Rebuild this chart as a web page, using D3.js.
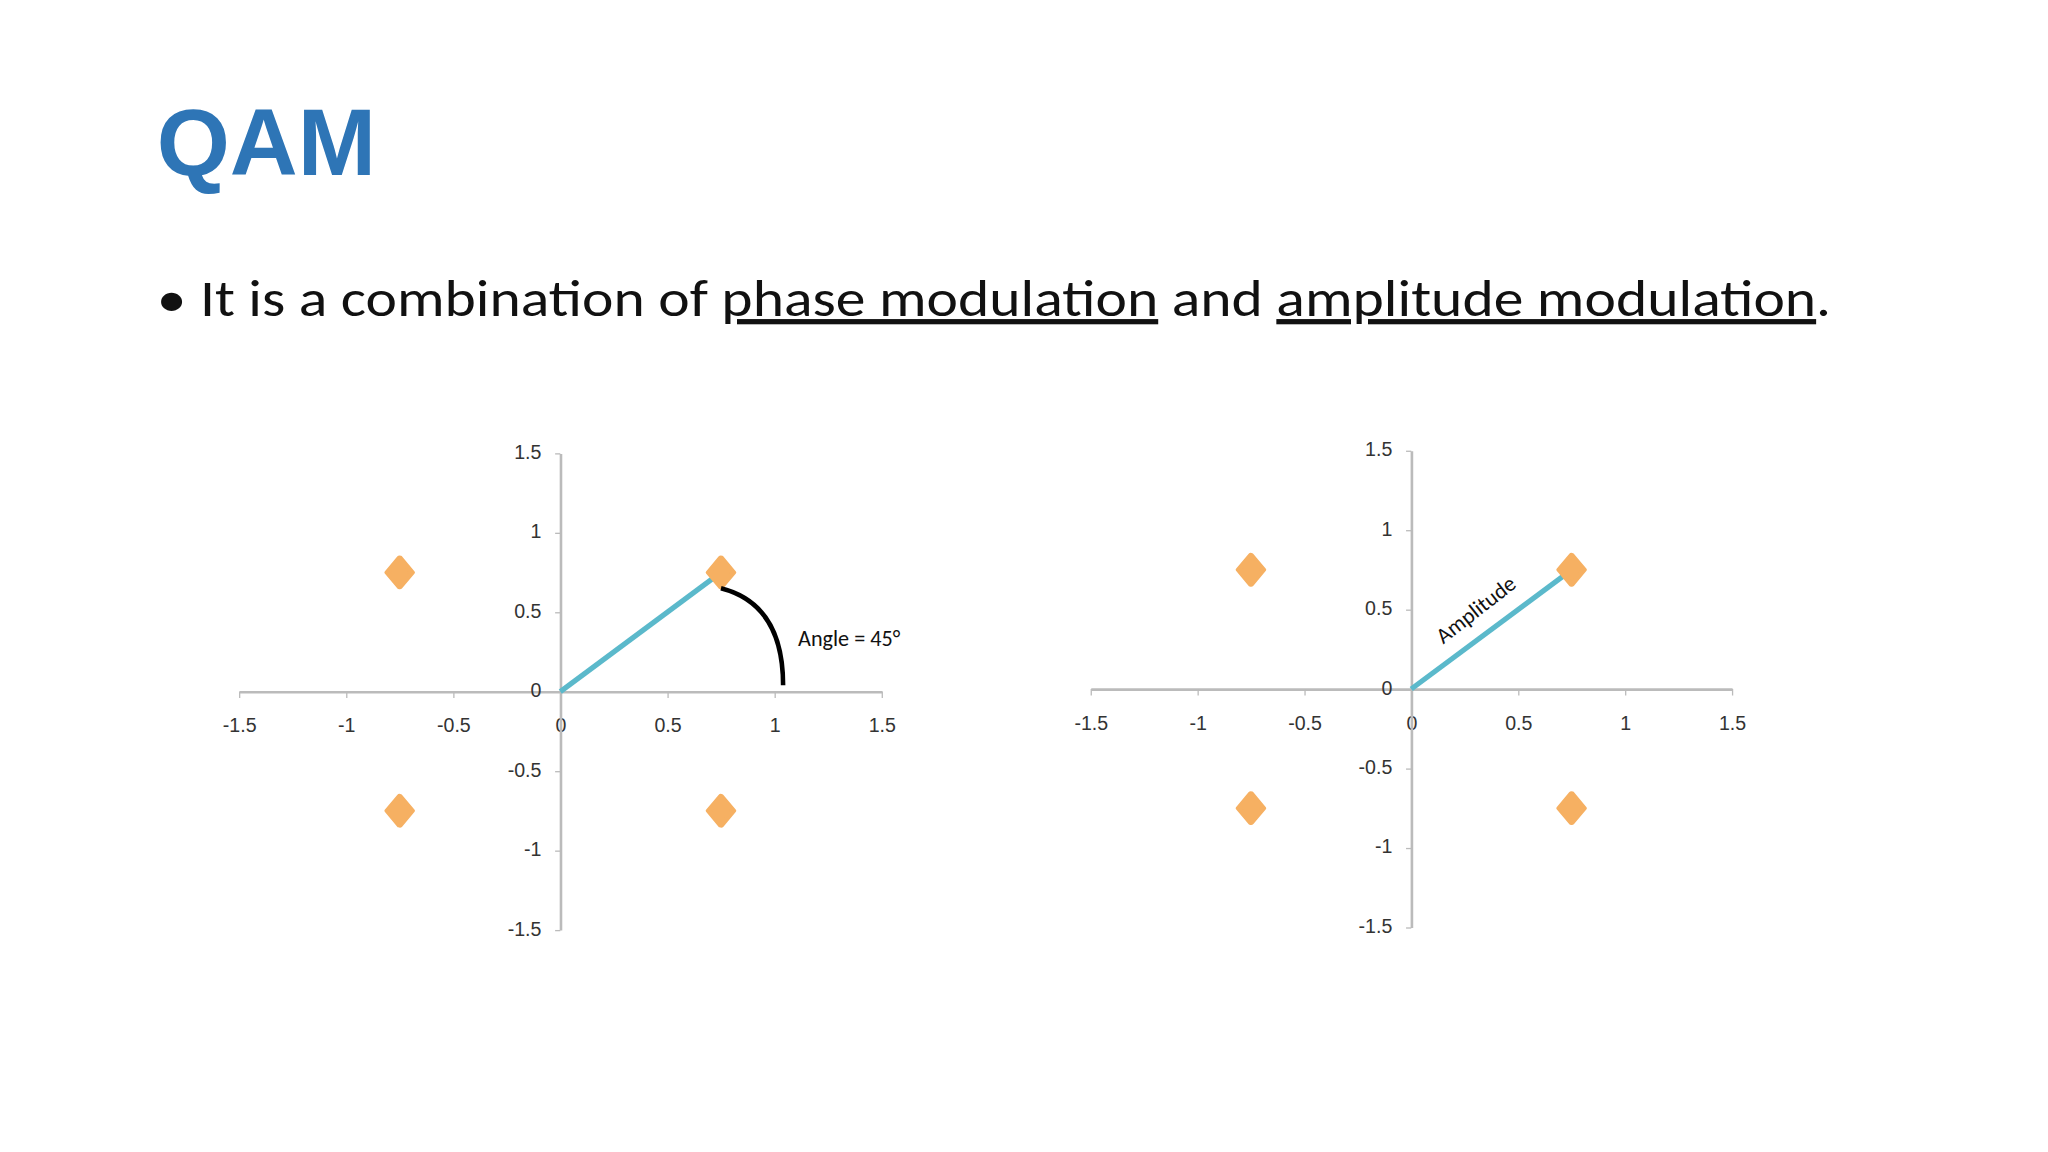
<!DOCTYPE html>
<html><head><meta charset="utf-8">
<script src="https://cdn.jsdelivr.net/npm/d3@7"></script>
<style>body{margin:0;background:#fff}</style>
</head><body>
<script>
// data
var ticks = [-1.5,-1,-0.5,0,0.5,1,1.5];
var tickLabels = ["-1.5","-1","-0.5","0","0.5","1","1.5"];
var pointsX = [-0.75,0.75,-0.75,0.75];
var pointsY = [0.75,0.75,-0.75,-0.75];
var vector = [[0,0],[0.75,0.75]];
var arcPts = [[0.75,0.65],[1.04,0.55],[1.04,0.04]];

var svg = d3.select("body").append("svg")
    .attr("width",2048).attr("height",1152)
    .attr("viewBox","0 0 1568 882");

svg.append("text").attr("x",120).attr("y",134)
  .attr("font-family","Liberation Sans, Arial").attr("font-weight","bold")
  .attr("font-size",72).attr("fill","#2e75b6").text("QAM");

var t = svg.append("text").attr("x",120).attr("y",242)
  .attr("font-family","Carlito, Open Sans, Liberation Sans").attr("font-size",40).attr("fill","#111")
  .attr("textLength",1282).attr("lengthAdjust","spacingAndGlyphs");
t.append("tspan").text("• It is a combination of ");
t.append("tspan").attr("text-decoration","underline").text("phase modulation");
t.append("tspan").text(" and ");
t.append("tspan").attr("text-decoration","underline").text("amplitude modulation");
t.append("tspan").text(".");

function chart(x0, x1, y0, y1, kind){
  var x = d3.scaleLinear().domain([-1.5,1.5]).range([x0,x1]);
  var y = d3.scaleLinear().domain([-1.5,1.5]).range([y1,y0]);
  var g = svg.append("g").attr("font-family","Carlito, Liberation Sans Narrow, Liberation Sans");
  var fmt = function(d){ return tickLabels[ticks.indexOf(d)]; };
  var xa = g.append("g").attr("transform","translate(0,"+y(0)+")")
    .call(d3.axisBottom(x).tickValues(ticks).tickFormat(fmt).tickSize(5).tickSizeOuter(0));
  xa.selectAll("text").attr("dy","1.55em").attr("font-size",15).attr("fill","#333");
  var ya = g.append("g").attr("transform","translate("+x(0)+",0)")
    .call(d3.axisLeft(y).tickValues(ticks).tickFormat(fmt).tickSize(4).tickSizeOuter(0));
  ya.selectAll("text").attr("dx","-0.5em").attr("dy","0.25em").attr("font-size",15).attr("fill","#333");
  g.selectAll(".domain").attr("stroke","#bbb").attr("stroke-width",2);
  g.selectAll(".tick line").attr("stroke","#bbb");
  g.append("path").attr("d",d3.line().x(function(d){return x(d[0]);}).y(function(d){return y(d[1]);})(vector))
    .attr("stroke","#5bb9cb").attr("stroke-width",4).attr("fill","none");
  g.selectAll(".pt").data(pointsX).enter().append("path")
    .attr("d",d3.symbol(d3.symbolDiamond,150)())
    .attr("transform",function(d,i){return "translate("+x(d)+","+y(pointsY[i])+") scale(1.45,1)";})
    .attr("fill","#f6b062").attr("stroke","#f6b062").attr("stroke-width",3).attr("stroke-linejoin","round");
  if(kind==="angle"){
    var p = d3.path();
    p.moveTo(x(arcPts[0][0]),y(arcPts[0][1]));
    p.quadraticCurveTo(x(arcPts[1][0]),y(arcPts[1][1]),x(arcPts[2][0]),y(arcPts[2][1]));
    g.append("path").attr("d",p.toString()).attr("stroke","#000").attr("stroke-width",3.5).attr("fill","none");
    g.append("text").attr("x",x(1.11)).attr("y",y(0.29)).attr("font-size",17).attr("fill","#111").text("Angle = 45°");
  } else {
    g.append("text").attr("transform","translate("+x(0.15)+","+y(0.28)+") rotate(-38)")
      .attr("font-size",17).attr("fill","#111").text("Amplitude");
  }
}
chart(183,675,347,712,"angle");
chart(835,1326,345,710,"amp");
</script>
</body></html>
